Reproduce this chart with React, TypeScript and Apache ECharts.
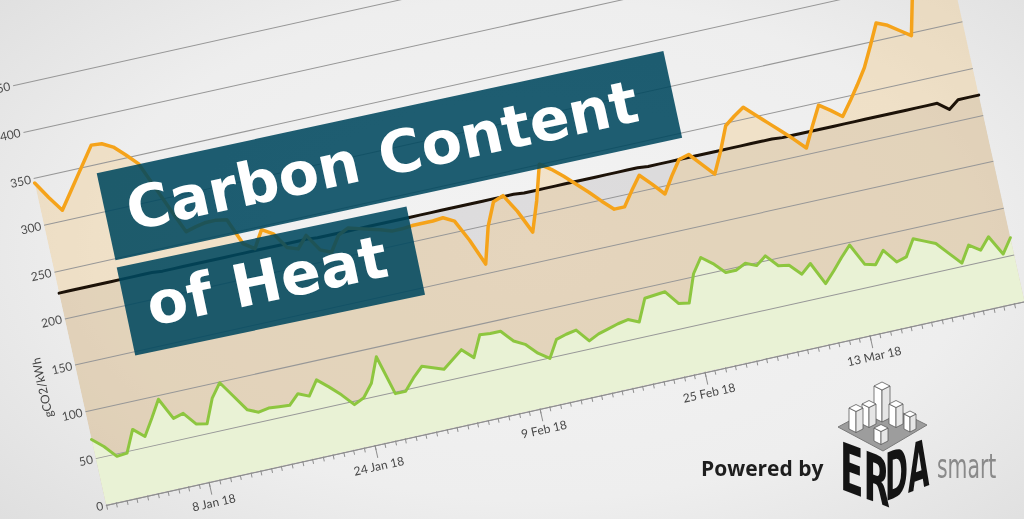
import React, { useEffect, useRef } from 'react';
import * as echarts from 'echarts';

// ---------- data ----------
const MONTHS = ['Jan', 'Feb', 'Mar', 'Apr', 'May', 'Jun', 'Jul', 'Aug', 'Sep', 'Oct', 'Nov', 'Dec'];
const DAY_COUNT = 90; // 29 Dec 2017 .. 28 Mar 2018
const DATES: string[] = [];
for (let i = 0; i < DAY_COUNT; i++) {
  const dt = new Date(Date.UTC(2017, 11, 29 + i));
  DATES.push(`${dt.getUTCDate()} ${MONTHS[dt.getUTCMonth()]} ${String(dt.getUTCFullYear()).slice(2)}`);
}

const ORANGE = [
  345, 327, 311, 326, 341, 356, 371, 370, 364, 353,
  341, 314, 287, 261, 264, 266, 266, 264, 236, 228,
  246, 239, 222, 218, 230, 212, 207, 223, 228, 225,
  222, 219, 215, 215, 216, 216, 216, 217, 211, 188,
  160, 198, 222, 226, 207, 182, 213, 250, 242, 232,
  221, 210, 198, 187, 187, 202, 216, 204, 191, 208,
  223, 226, 213, 200, 222, 247, 255, 262, 251, 240,
  229, 218, 206, 227, 247, 239, 230, 244, 259, 275,
  296, 318, 313, 305, 297, 342, 352, 360, 366, 370,
];

const BLACK = [
  227, 227, 227, 227, 227, 227, 227, 227, 227, 227,
  226, 226, 226, 226, 226, 226, 226, 226, 226, 226,
  226, 226, 226, 226, 226, 225, 225, 225, 225, 225,
  225, 225, 225, 225, 225, 225, 225, 225, 225, 225,
  225, 225, 225, 225, 225, 224, 224, 224, 224, 224,
  224, 224, 224, 224, 224, 224, 224, 223, 223, 223,
  223, 223, 223, 223, 223, 223, 223, 223, 223, 223,
  222, 222, 222, 222, 222, 222, 222, 222, 222, 222,
  222, 222, 222, 222, 222, 222, 213, 221, 221, 221,
];

const GREEN = [
  70, 60, 47, 48, 71, 61, 78, 96, 73, 76,
  62, 60, 85, 99, 82, 65, 60, 62, 61, 60,
  70, 65, 80, 70, 59, 46, 51, 64, 90, 48,
  48, 60, 70, 66, 62, 70, 78, 67, 89, 88,
  88, 75, 69, 57, 49, 67, 70, 72, 58, 63,
  66, 69, 71, 66, 89, 90, 91, 76, 74, 103,
  118, 109, 97, 97, 102, 97, 105, 92, 90, 78,
  87, 63, 74, 86, 97, 74, 71, 84, 69, 72,
  89, 84, 79, 66, 53, 70, 62, 74, 53, 68,
];

const Y_MIN = 0;
const Y_MAX = 450;
const Y_STEP = 50;
const Y_NAME = 'gCO2/kWh';
const TITLE_LINES = ['Carbon Content', 'of Heat'];
const LABEL_EVERY = 16;
const LABEL_OFFSET = 10; // 8 Jan 18

// ---------- chart geometry (chart's own frame, before rotation) ----------
const GRID_LEFT = 100;
const GRID_TOP = 60;
const GRID_W = 940.7;
const GRID_H = 429.75;
const CHART_W = 1100;
const CHART_H = 560;
const ORIGIN_X = 106; // page position of the axis origin
const ORIGIN_Y = 505;
const TILT = 12.5;

const isMajor = (i: number) => i % LABEL_EVERY === LABEL_OFFSET;

function areaSeries(data: number[], color: string) {
  return {
    type: 'line',
    data,
    symbol: 'none',
    showSymbol: false,
    silent: true,
    z: 1,
    lineStyle: { width: 0, opacity: 0 },
    areaStyle: { color, opacity: 1 },
  };
}

function lineSeries(name: string, data: number[], color: string, width: number) {
  return {
    name,
    type: 'line',
    data,
    symbol: 'none',
    showSymbol: false,
    z: 5,
    lineStyle: { color, width, join: 'round', cap: 'round' },
  };
}

function chartOption() {
  return {
    animation: false,
    backgroundColor: 'transparent',
    grid: { left: GRID_LEFT, top: GRID_TOP, width: GRID_W, height: GRID_H },
    xAxis: [
      {
        type: 'category',
        data: DATES,
        boundaryGap: false,
        z: 3,
        axisLine: { lineStyle: { color: '#8e8e8e', width: 1 } },
        axisTick: { interval: 0, length: 5, lineStyle: { color: '#8e8e8e', width: 1 } },
        axisLabel: {
          interval: (i: number) => isMajor(i),
          color: '#474747',
          fontSize: 12,
          fontFamily: 'Lato',
          margin: 15,
        },
        splitLine: { show: false },
      },
      {
        type: 'category',
        data: DATES,
        boundaryGap: false,
        position: 'bottom',
        z: 3,
        axisLine: { show: false },
        axisTick: { interval: (i: number) => isMajor(i), length: 13, lineStyle: { color: '#8e8e8e', width: 1 } },
        axisLabel: { show: false },
        splitLine: { show: false },
      },
    ],
    yAxis: {
      type: 'value',
      min: Y_MIN,
      max: Y_MAX,
      interval: Y_STEP,
      z: 3,
      axisLine: { show: false },
      axisTick: { show: false },
      axisLabel: { color: '#4d4d4d', fontSize: 12, fontFamily: 'Lato', margin: 3 },
      splitLine: { lineStyle: { color: '#979797', width: 1 } },
    },
    graphic: [
      {
        type: 'text',
        x: GRID_LEFT - 37,
        y: GRID_TOP + GRID_H - 128,
        rotation: Math.PI / 2,
        style: {
          text: Y_NAME,
          fill: '#444',
          fontSize: 12,
          fontFamily: 'Lato',
          align: 'center',
          verticalAlign: 'middle',
        },
      },
    ],
    series: [
      areaSeries(BLACK, 'rgba(140,135,140,0.2)'),
      areaSeries(ORANGE, 'rgba(240,200,130,0.36)'),
      areaSeries(GREEN, 'rgba(234,244,215,0.93)'),
      lineSeries('Average', BLACK, '#1c1208', 3),
      lineSeries('Heat', ORANGE, '#f5a31a', 3.5),
      lineSeries('Renewable', GREEN, '#8dc63f', 3),
    ],
  };
}

// ---------- overlay: title and logo ----------
const DEG = Math.PI / 180;

function isoBox(x: number, y: number, s: number, h: number) {
  const stroke = '#5a5a5a';
  return [
    {
      type: 'polygon',
      shape: { points: [[x - s, y], [x, y + s / 2], [x, y + s / 2 - h], [x - s, y - h]] },
      style: { fill: '#ffffff', stroke, lineWidth: 0.8 },
    },
    {
      type: 'polygon',
      shape: { points: [[x, y + s / 2], [x + s, y], [x + s, y - h], [x, y + s / 2 - h]] },
      style: { fill: '#e6e6e6', stroke, lineWidth: 0.8 },
    },
    {
      type: 'polygon',
      shape: { points: [[x - s, y - h], [x, y - s / 2 - h], [x + s, y - h], [x, y + s / 2 - h]] },
      style: { fill: '#ffffff', stroke, lineWidth: 0.8 },
    },
  ];
}

function overlayOption() {
  const boxFill = 'rgba(0,72,94,0.88)';
  const titleFont = { fill: '#ffffff', fontSize: 59, fontWeight: 'bold', fontFamily: 'DejaVu Sans', verticalAlign: 'middle' };
  const buildings = [
    ...isoBox(882, 418, 8, 32),
    ...isoBox(869, 424, 7, 20),
    ...isoBox(896, 424, 7, 20),
    ...isoBox(856, 429, 7, 21),
    ...isoBox(910, 429, 6, 15),
    ...isoBox(881, 441, 7, 13),
  ];
  return {
    animation: false,
    backgroundColor: 'transparent',
    graphic: [
      {
        type: 'group',
        x: 96.7,
        y: 173.3,
        rotation: 12.2 * DEG,
        children: [
          { type: 'rect', shape: { x: 0, y: 0, width: 580, height: 89 }, style: { fill: boxFill } },
          { type: 'text', x: 22, y: 43, style: { ...titleFont, text: TITLE_LINES[0] } },
        ],
      },
      {
        type: 'group',
        x: 116.7,
        y: 267.5,
        rotation: 11.9 * DEG,
        children: [
          { type: 'rect', shape: { x: 0, y: 0, width: 296, height: 90 }, style: { fill: boxFill } },
          { type: 'text', x: 22, y: 44, style: { ...titleFont, text: TITLE_LINES[1] } },
        ],
      },
      {
        type: 'text',
        x: 701,
        y: 468,
        style: { text: 'Powered by', fill: '#1e1e1e', fontSize: 21, fontWeight: 'bold', fontFamily: 'Open Sans', verticalAlign: 'middle' },
      },
      {
        type: 'polygon',
        shape: { points: [[838, 427], [883, 403], [927, 425], [883, 451]] },
        style: { fill: '#9d9d9d', stroke: '#7a7a7a', lineWidth: 1 },
      },
      ...buildings,
      {
        type: 'text',
        x: 840,
        y: 466,
        scaleX: 0.52,
        skewY: -0.36,
        style: { text: 'ER', fill: '#141414', fontSize: 66, fontWeight: 'bold', fontFamily: 'DejaVu Sans', verticalAlign: 'middle' },
      },
      {
        type: 'text',
        x: 885,
        y: 479,
        scaleX: 0.42,
        skewY: 0.36,
        style: { text: 'DA', fill: '#141414', fontSize: 66, fontWeight: 'bold', fontFamily: 'DejaVu Sans', verticalAlign: 'middle' },
      },
      {
        type: 'text',
        x: 937,
        y: 466,
        scaleX: 0.6,
        style: { text: 'smart', fill: '#8a8a8a', fontSize: 34, fontFamily: 'DejaVu Sans', verticalAlign: 'middle' },
      },
    ],
  };
}

export default function App() {
  const chartRef = useRef<HTMLDivElement>(null);
  const overlayRef = useRef<HTMLDivElement>(null);

  useEffect(() => {
    const chart = echarts.init(chartRef.current as HTMLDivElement, undefined, { renderer: 'svg' });
    chart.setOption(chartOption() as any);
    const overlay = echarts.init(overlayRef.current as HTMLDivElement, undefined, { renderer: 'svg' });
    overlay.setOption(overlayOption() as any);
    return () => {
      chart.dispose();
      overlay.dispose();
    };
  }, []);

  const originInDivY = GRID_TOP + GRID_H;
  return (
    <div
      style={{
        position: 'fixed',
        left: 0,
        top: 0,
        width: 1024,
        height: 519,
        overflow: 'hidden',
        background: 'radial-gradient(ellipse 78% 88% at 52% 48%, #f3f3f3 0%, #eeeeee 55%, #dadada 100%)',
      }}
    >
      <div
        ref={chartRef}
        style={{
          position: 'absolute',
          left: ORIGIN_X - GRID_LEFT,
          top: ORIGIN_Y - originInDivY,
          width: CHART_W,
          height: CHART_H,
          transform: `rotate(-${TILT}deg)`,
          transformOrigin: `${GRID_LEFT}px ${originInDivY}px`,
        }}
      />
      <div
        ref={overlayRef}
        style={{ position: 'absolute', left: 0, top: 0, width: 1024, height: 519, pointerEvents: 'none' }}
      />
    </div>
  );
}
